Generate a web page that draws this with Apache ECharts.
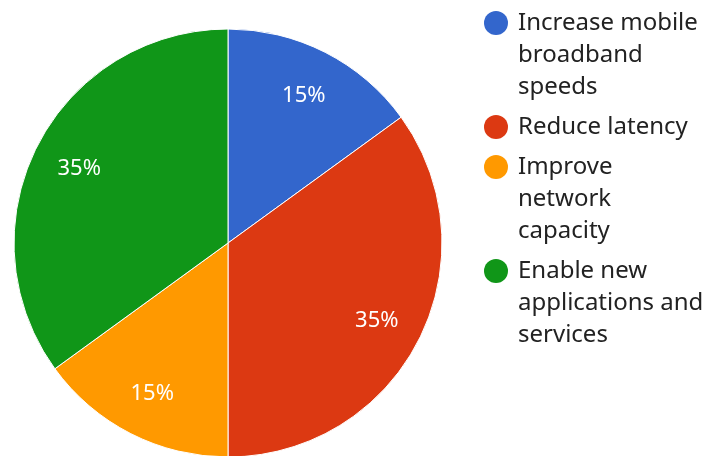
<!DOCTYPE html>
<html>
<head>
<meta charset="utf-8">
<script src="https://cdn.jsdelivr.net/npm/echarts@6/dist/echarts.min.js"></script>
<style>
html,body{margin:0;padding:0;background:#fff;}
#chart{width:709px;height:456px;}
</style>
</head>
<body>
<div id="chart"></div>
<script>
const categories = ['Increase mobile broadband speeds', 'Reduce latency', 'Improve network capacity', 'Enable new applications and services'];
const legendLines = [
  ['Increase mobile', 'broadband', 'speeds'],
  ['Reduce latency'],
  ['Improve', 'network', 'capacity'],
  ['Enable new', 'applications and', 'services']
];
const values = [15, 35, 15, 35];
const colors = ['#3366cc', '#dc3912', '#ff9900', '#109618'];

const FONT = '"Noto Sans", "Open Sans", sans-serif';
const chart = echarts.init(document.getElementById('chart'));

const data = categories.map((c, i) => ({ name: c, value: values[i], itemStyle: { color: colors[i] } }));

const rich = {
  sp: { width: 10, height: 24 },
  ind: { width: 34, height: 24 },
  t: { fontSize: 24, lineHeight: 32, color: '#222', fontFamily: FONT }
};
colors.forEach((c, i) => {
  rich['c' + i] = { width: 24, height: 24, borderRadius: 12, backgroundColor: c };
});

chart.setOption({
  animation: false,
  color: colors,
  legend: {
    orient: 'vertical',
    left: 479,
    top: 7,
    padding: 0,
    itemGap: 8,
    itemWidth: 0,
    itemHeight: 0,
    icon: 'circle',
    itemStyle: { borderWidth: 0, opacity: 0 },
    data: categories,
    textStyle: { fontSize: 24, lineHeight: 32, color: '#222', fontFamily: FONT, rich: rich },
    formatter: function (name) {
      const i = categories.indexOf(name);
      const lines = legendLines[i];
      return lines.map((l, k) => (k === 0 ? '{c' + i + '|}{sp|}' : '{ind|}') + '{t|' + l + '}').join('\n');
    }
  },
  series: [
    {
      type: 'pie',
      center: [228, 243],
      radius: [0, 214],
      startAngle: 90,
      clockwise: true,
      itemStyle: { borderColor: '#fff', borderWidth: 1 },
      label: { show: false },
      labelLine: { show: false },
      emphasis: { scale: false },
      data: data
    },
    {
      type: 'pie',
      center: [228, 243],
      radius: [114, 214],
      startAngle: 90,
      clockwise: true,
      silent: true,
      itemStyle: { color: 'rgba(0,0,0,0)', borderWidth: 0 },
      label: {
        show: true,
        position: 'inside',
        formatter: '{d}%',
        color: '#fff',
        fontSize: 22,
        fontFamily: FONT,
        offset: [0, 2]
      },
      labelLine: { show: false },
      emphasis: { disabled: true },
      data: categories.map((c, i) => ({ name: c, value: values[i] }))
    }
  ]
});
</script>
</body>
</html>
